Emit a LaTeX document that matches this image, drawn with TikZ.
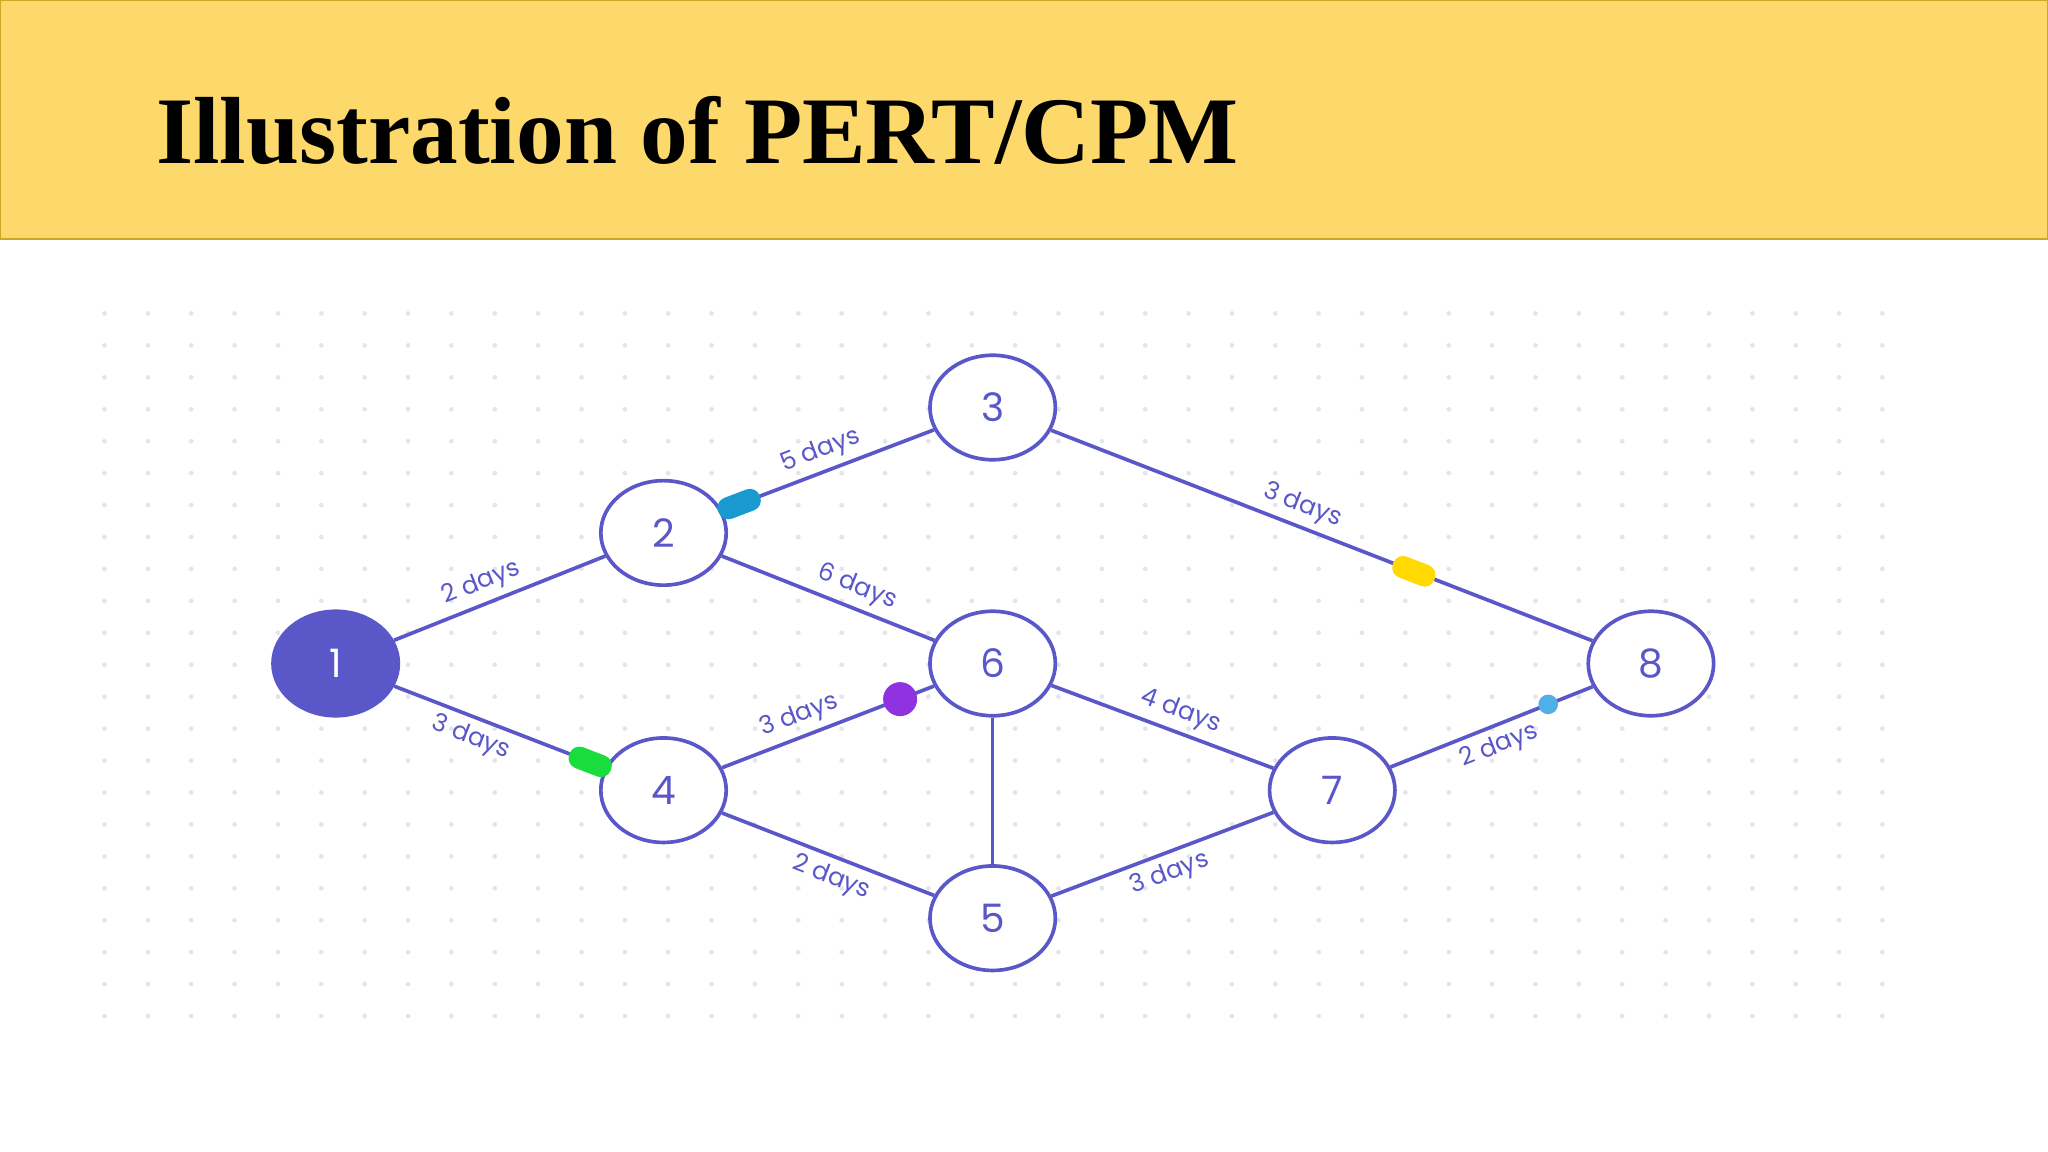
\documentclass[tikz,border=0pt]{standalone}
\usepackage{fontspec}
\setmainfont{Poppins}
\newfontfamily\titlefont{Liberation Serif}
\usetikzlibrary{shapes.geometric}
\definecolor{ink}{HTML}{5A57C8}
\definecolor{hdr}{HTML}{FDD96C}
\definecolor{hdrline}{HTML}{C9A82A}
\definecolor{dotc}{HTML}{E4E4EC}
\tikzset{
  ev/.style={ellipse, draw=ink, line width=2.8pt, fill=white, minimum width=96pt, minimum height=80pt, inner sep=0pt, text=ink, font=\fontsize{30}{30}\selectfont},
  edge/.style={draw=ink, line width=2.8pt},
  lab/.style={sloped, text=ink, font=\fontsize{19}{19}\selectfont, inner sep=5pt},
  pill/.style={sloped, rounded corners=8pt, minimum width=34pt, minimum height=17pt, inner sep=0pt},
  dotm/.style={circle, inner sep=0pt},
}
\begin{document}
\begin{tikzpicture}[x=1pt,y=-1pt]
\useasboundingbox (0,0) rectangle (1568,882);
\fill[white] (0,0) rectangle (1568,882);
\filldraw[fill=hdr, draw=hdrline, line width=1pt] (0,0) rectangle (1568,183);
\node[anchor=west, font=\titlefont\bfseries\fontsize{73}{73}\selectfont] (title) at (116,100) {Illustration of PERT/CPM};
\foreach \i in {0,...,41} \foreach \j in {0,...,22}
  \fill[dotc] (80+\i*33.2,240+\j*24.45) circle (1.8pt);
\node[ev, fill=ink, text=white] (n1) at (257,508) {1};
\node[ev] (n2) at (508,408) {2};
\node[ev] (n3) at (760,312) {3};
\node[ev] (n6) at (760,508) {6};
\node[ev] (n4) at (508,605) {4};
\node[ev] (n5) at (760,703) {5};
\node[ev] (n7) at (1020,605) {7};
\node[ev] (n8) at (1264,508) {8};
\path[edge] (n1) -- node[lab, above, pos=0.45] {2 days} (n2);
\path[edge] (n2) -- node[lab, above, pos=0.5] {5 days} node[pill, fill=blue!30!cyan!80!black!90, pos=0.08] {} (n3);
\path[edge] (n2) -- node[lab, above, pos=0.6] {6 days} (n6);
\path[edge] (n3) -- node[lab, above, pos=0.45] {3 days} node[pill, fill=orange!30!yellow, pos=0.67] {} (n8);
\path[edge] (n1) -- node[lab, below, pos=0.4] {3 days} node[pill, fill=green!70!teal!90, pos=0.93] {} (n4);
\path[edge] (n4) -- node[lab, above, pos=0.4] {3 days} node[dotm, fill=violet!50!magenta!60!blue!80, minimum size=26pt, pos=0.84] {} (n6);
\path[edge] (n6) -- (n5);
\path[edge] (n6) -- node[lab, above, pos=0.55] {4 days} (n7);
\path[edge] (n4) -- node[lab, below, pos=0.55] {2 days} (n5);
\path[edge] (n5) -- node[lab, below, pos=0.5] {3 days} (n7);
\path[edge] (n7) -- node[lab, below, pos=0.5] {2 days} node[dotm, fill=cyan!80!blue!70, minimum size=15pt, pos=0.78] {} (n8);
\end{tikzpicture}
\end{document}
